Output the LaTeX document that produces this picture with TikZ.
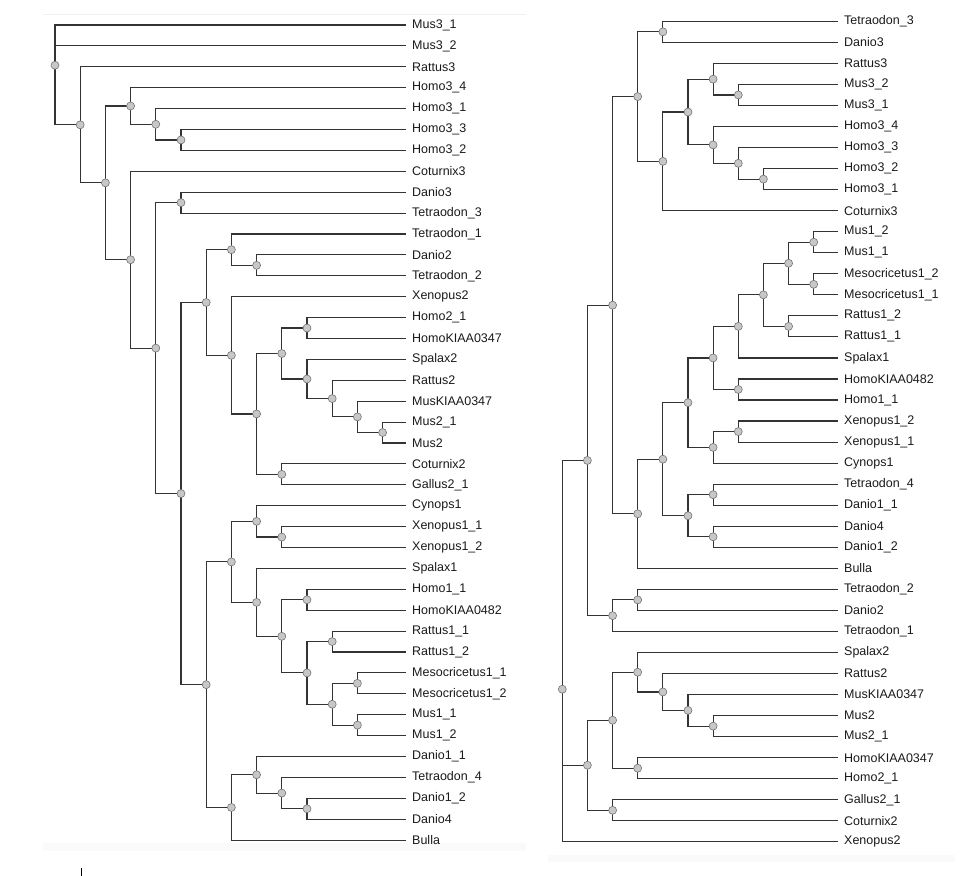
\documentclass[tikz,border=0pt]{standalone}
\usepackage{fontspec}
\setmainfont{Liberation Sans}
\usetikzlibrary{calc}
\pgfdeclarelayer{fg}
\pgfsetlayers{main,fg}
\tikzset{
  br/.style={draw=black!80, line width=1.15pt},
  dot/.style={circle, draw=black!55, fill=black!22, line width=0.6pt, minimum size=8pt, inner sep=0pt},
  leaf/.style={anchor=west, inner sep=0pt, xshift=6pt, font=\fontsize{12.5}{14}\selectfont, text=black!90}
}
\newcommand\lfL[3]{\coordinate (#1) at (406,{25+20.9*(#2-1)}); \node[leaf] (t#1) at (#1) {#3};}
\newcommand\lfR[3]{\coordinate (#1) at (838,{21.3+21.04*(#2-1)}); \node[leaf] (t#1) at (#1) {#3};}
\newcommand\nd[4]{%
  \path let \p1=($(#3)!.5!(#4)$) in coordinate (#1) at (#2pt,\y1);
  \draw[br] (#1) |- (#3); \draw[br] (#1) |- (#4);
  \begin{pgfonlayer}{fg}\node[dot] (d#1) at (#1) {};\end{pgfonlayer}}
\newcommand\ndthree[5]{%
  \path let \p1=($(#3)!{2/3}!($(#4)!.5!(#5)$)$) in coordinate (#1) at (#2pt,\y1);
  \draw[br] (#1) |- (#3); \draw[br] (#1) |- (#4); \draw[br] (#1) |- (#5);
  \begin{pgfonlayer}{fg}\node[dot] (d#1) at (#1) {};\end{pgfonlayer}}
\begin{document}
\begin{tikzpicture}[x=1pt,y=-1pt]
\useasboundingbox (0,0) rectangle (962,876);
\fill[black!2] (43,843) rectangle (526,851);
\fill[black!2] (548,855) rectangle (955,862);
\draw[black!6, line width=0.8pt] (43,14) -- (526,14);
\coordinate (tk1) at (81,868); \coordinate (tk2) at (81,876);
\draw[black, line width=0.8pt] (tk1) -- (tk2);
% left leaves
\lfL{L1}{1}{Mus3\_1}
\lfL{L2}{2}{Mus3\_2}
\lfL{L3}{3}{Rattus3}
\lfL{L4}{4}{Homo3\_4}
\lfL{L5}{5}{Homo3\_1}
\lfL{L6}{6}{Homo3\_3}
\lfL{L7}{7}{Homo3\_2}
\lfL{L8}{8}{Coturnix3}
\lfL{L9}{9}{Danio3}
\lfL{L10}{10}{Tetraodon\_3}
\lfL{L11}{11}{Tetraodon\_1}
\lfL{L12}{12}{Danio2}
\lfL{L13}{13}{Tetraodon\_2}
\lfL{L14}{14}{Xenopus2}
\lfL{L15}{15}{Homo2\_1}
\lfL{L16}{16}{HomoKIAA0347}
\lfL{L17}{17}{Spalax2}
\lfL{L18}{18}{Rattus2}
\lfL{L19}{19}{MusKIAA0347}
\lfL{L20}{20}{Mus2\_1}
\lfL{L21}{21}{Mus2}
\lfL{L22}{22}{Coturnix2}
\lfL{L23}{23}{Gallus2\_1}
\lfL{L24}{24}{Cynops1}
\lfL{L25}{25}{Xenopus1\_1}
\lfL{L26}{26}{Xenopus1\_2}
\lfL{L27}{27}{Spalax1}
\lfL{L28}{28}{Homo1\_1}
\lfL{L29}{29}{HomoKIAA0482}
\lfL{L30}{30}{Rattus1\_1}
\lfL{L31}{31}{Rattus1\_2}
\lfL{L32}{32}{Mesocricetus1\_1}
\lfL{L33}{33}{Mesocricetus1\_2}
\lfL{L34}{34}{Mus1\_1}
\lfL{L35}{35}{Mus1\_2}
\lfL{L36}{36}{Danio1\_1}
\lfL{L37}{37}{Tetraodon\_4}
\lfL{L38}{38}{Danio1\_2}
\lfL{L39}{39}{Danio4}
\lfL{L40}{40}{Bulla}
% left internal
\nd{LC2}{181}{L6}{L7}
\nd{LC1}{155.8}{L5}{LC2}
\nd{LC}{130.6}{L4}{LC1}
\nd{LF}{181}{L9}{L10}
\nd{LH1a}{256.6}{L12}{L13}
\nd{LH1}{231.4}{L11}{LH1a}
\nd{LK1}{307}{L15}{L16}
\nd{LK5}{382.6}{L20}{L21}
\nd{LK4}{357.4}{L19}{LK5}
\nd{LK3}{332.2}{L18}{LK4}
\nd{LK2}{307}{L17}{LK3}
\nd{LK}{281.8}{LK1}{LK2}
\nd{LL}{281.8}{L22}{L23}
\nd{LJ}{256.6}{LK}{LL}
\nd{LH2}{231.4}{L14}{LJ}
\nd{LH}{206.2}{LH1}{LH2}
\nd{LM1a}{281.8}{L25}{L26}
\nd{LM1}{256.6}{L24}{LM1a}
\nd{LO1}{307}{L28}{L29}
\nd{LO3}{332.2}{L30}{L31}
\nd{LO5}{357.4}{L32}{L33}
\nd{LO6}{357.4}{L34}{L35}
\nd{LO4}{332.2}{LO5}{LO6}
\nd{LO2}{307}{LO3}{LO4}
\nd{LO}{281.8}{LO1}{LO2}
\nd{LM2}{256.6}{L27}{LO}
\nd{LM}{231.4}{LM1}{LM2}
\nd{LP2}{307}{L38}{L39}
\nd{LP1}{281.8}{L37}{LP2}
\nd{LP}{256.6}{L36}{LP1}
\nd{LN}{231.4}{LP}{L40}
\nd{LI}{206.2}{LM}{LN}
\nd{LG}{181}{LH}{LI}
\nd{LE}{155.8}{LF}{LG}
\nd{LD}{130.6}{L8}{LE}
\nd{LB}{105.4}{LC}{LD}
\nd{LA}{80.2}{L3}{LB}
\ndthree{LR}{55}{L1}{L2}{LA}
% right leaves
\lfR{R1}{1}{Tetraodon\_3}
\lfR{R2}{2}{Danio3}
\lfR{R3}{3}{Rattus3}
\lfR{R4}{4}{Mus3\_2}
\lfR{R5}{5}{Mus3\_1}
\lfR{R6}{6}{Homo3\_4}
\lfR{R7}{7}{Homo3\_3}
\lfR{R8}{8}{Homo3\_2}
\lfR{R9}{9}{Homo3\_1}
\lfR{R10}{10}{Coturnix3}
\lfR{R11}{11}{Mus1\_2}
\lfR{R12}{12}{Mus1\_1}
\lfR{R13}{13}{Mesocricetus1\_2}
\lfR{R14}{14}{Mesocricetus1\_1}
\lfR{R15}{15}{Rattus1\_2}
\lfR{R16}{16}{Rattus1\_1}
\lfR{R17}{17}{Spalax1}
\lfR{R18}{18}{HomoKIAA0482}
\lfR{R19}{19}{Homo1\_1}
\lfR{R20}{20}{Xenopus1\_2}
\lfR{R21}{21}{Xenopus1\_1}
\lfR{R22}{22}{Cynops1}
\lfR{R23}{23}{Tetraodon\_4}
\lfR{R24}{24}{Danio1\_1}
\lfR{R25}{25}{Danio4}
\lfR{R26}{26}{Danio1\_2}
\lfR{R27}{27}{Bulla}
\lfR{R28}{28}{Tetraodon\_2}
\lfR{R29}{29}{Danio2}
\lfR{R30}{30}{Tetraodon\_1}
\lfR{R31}{31}{Spalax2}
\lfR{R32}{32}{Rattus2}
\lfR{R33}{33}{MusKIAA0347}
\lfR{R34}{34}{Mus2}
\lfR{R35}{35}{Mus2\_1}
\lfR{R36}{36}{HomoKIAA0347}
\lfR{R37}{37}{Homo2\_1}
\lfR{R38}{38}{Gallus2\_1}
\lfR{R39}{39}{Coturnix2}
\lfR{R40}{40}{Xenopus2}
% right internal
\nd{RC1}{662.9}{R1}{R2}
\nd{RC4a}{738.3}{R4}{R5}
\nd{RC4}{713.1}{R3}{RC4a}
\nd{RC7}{763.4}{R8}{R9}
\nd{RC6}{738.3}{R7}{RC7}
\nd{RC5}{713.1}{R6}{RC6}
\nd{RC3}{688}{RC4}{RC5}
\nd{RC2}{662.9}{RC3}{R10}
\nd{RC}{637.7}{RC1}{RC2}
\nd{RH6}{813.7}{R11}{R12}
\nd{RH7}{813.7}{R13}{R14}
\nd{RH4}{788.6}{RH6}{RH7}
\nd{RH5}{788.6}{R15}{R16}
\nd{RH3}{763.4}{RH4}{RH5}
\nd{RH1}{738.3}{RH3}{R17}
\nd{RH2}{738.3}{R18}{R19}
\nd{RH}{713.1}{RH1}{RH2}
\nd{RI1}{738.3}{R20}{R21}
\nd{RI}{713.1}{RI1}{R22}
\nd{RF}{688}{RH}{RI}
\nd{RG1}{713.1}{R23}{R24}
\nd{RG2}{713.1}{R25}{R26}
\nd{RG}{688}{RG1}{RG2}
\nd{RE}{662.9}{RF}{RG}
\nd{RD}{637.7}{RE}{R27}
\nd{RA1}{612.6}{RC}{RD}
\nd{RA3}{637.7}{R28}{R29}
\nd{RA2}{612.6}{RA3}{R30}
\nd{RA}{587.4}{RA1}{RA2}
\nd{RB7}{713.1}{R34}{R35}
\nd{RB6}{688}{R33}{RB7}
\nd{RB5}{662.9}{R32}{RB6}
\nd{RB3}{637.7}{R31}{RB5}
\nd{RB4}{637.7}{R36}{R37}
\nd{RB1}{612.6}{RB3}{RB4}
\nd{RB2}{612.6}{R38}{R39}
\nd{RB}{587.4}{RB1}{RB2}
\ndthree{RR}{562.3}{RA}{RB}{R40}
\end{tikzpicture}
\end{document}
